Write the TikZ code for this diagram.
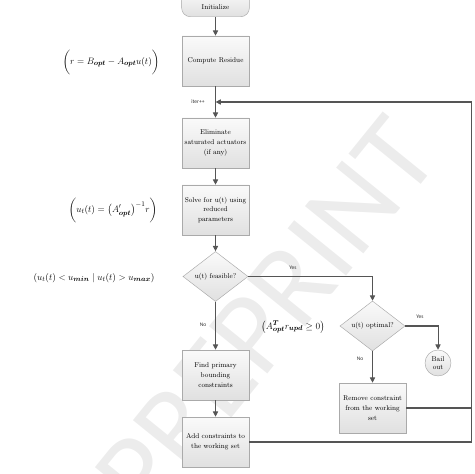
\documentclass[tikz,border=0pt]{standalone}
\usepackage{amsmath,amssymb}
\usepackage{fontspec}
\newfontfamily\labelfont{Carlito}
\usetikzlibrary{arrows.meta,positioning,calc,shapes.geometric}
\definecolor{linegray}{RGB}{85,85,85}
\definecolor{boxedge}{RGB}{170,170,170}
\definecolor{boxtop}{RGB}{250,250,250}
\definecolor{boxbottom}{RGB}{224,224,224}
\definecolor{wmark}{RGB}{236,236,236}
\tikzset{
  procbox/.style={rectangle, draw=boxedge, line width=0.6pt, top color=boxtop, bottom color=boxbottom, minimum width=3.0cm, minimum height=2.25cm, align=center, inner sep=2pt, font=\fontsize{9}{12.5}\selectfont},
  termbox/.style={rectangle, rounded corners=0.4cm, draw=boxedge, line width=0.6pt, top color=boxtop, bottom color=boxbottom, minimum width=3.05cm, text height=0.75cm, text depth=0.25cm, inner ysep=2pt, font=\fontsize{9}{12.5}\selectfont},
  decision/.style={diamond, aspect=1.3, draw=boxedge, line width=0.6pt, top color=boxtop, bottom color=boxbottom, minimum width=2.93cm, minimum height=2.25cm, inner sep=0pt, font=\fontsize{9}{12.5}\selectfont},
  bailnode/.style={circle, draw=boxedge, line width=0.6pt, top color=boxtop, bottom color=boxbottom, minimum size=1.17cm, inner sep=0pt, align=center, font=\fontsize{9}{11}\selectfont},
  flowline/.style={line width=1.3pt, linegray},
  flowarrow/.style={flowline, -{Triangle[length=2.4mm,width=2.3mm]}},
  branchlbl/.style={font=\labelfont\scriptsize, text=black!80},
  eqn/.style={font=\fontsize{13.2}{16}\selectfont}
}

\begin{document}
\begin{tikzpicture}[x=0.045cm, y=-0.045cm]
  \useasboundingbox (0,0) rectangle (474,474);
  \clip (0,0) rectangle (474,474);

  % Watermark
  \node[rotate=51, text=wmark, font=\labelfont\fontsize{150}{150}\selectfont] (wm) at (266,316) {PREPRINT};

  % Main column
  \node[termbox, anchor=south] (init) at (215.5,17) {Initialize};
  \node[procbox] (compute) at (215.5,61) {Compute Residue};
  \node[procbox] (elim) at (215.5,143) {Eliminate\\saturated actuators\\(if any)};
  \node[procbox] (solve) at (215.5,210) {Solve for u(t) using\\reduced\\parameters};
  \node[decision] (feasible) at (215.5,276.5) {u(t) feasible?};
  \node[procbox] (find) at (215.5,375) {Find primary\\bounding\\constraints};
  \node[procbox] (add) at (215.5,442) {Add constraints to\\the working set};

  % Right branch
  \node[decision] (optimal) at (372.5,326) {u(t) optimal?};
  \node[procbox] (remove) at (372.5,408) {Remove constraint\\from the working\\set};
  \node[bailnode] (bail) at (438,363) {Bail\\out};

  % Loop back
  \coordinate (rail) at (471,102);
  \coordinate (join) at (215.5,102);

  % Equations
  \node[eqn] (eqres) at (111,62) {$\bigg(r = B_{\boldsymbol{opt}} - A_{\boldsymbol{opt}}u(t)\bigg)$};
  \node[eqn] (eqsolve) at (113,210) {$\bigg(u_t(t) = \big(A'_{\boldsymbol{opt}}\big)^{-1} r\bigg)$};
  \node[eqn] (eqfeas) at (94,278) {$(u_t(t) < u_{\boldsymbol{min}} \mid u_t(t) > u_{\boldsymbol{max}})$};
  \node[eqn] (eqopt) at (293,327) {$\big(A_{\boldsymbol{opt}}^{\boldsymbol{T}} r_{\boldsymbol{upd}} \geq 0\big)$};

  % Branch labels
  \node[branchlbl] (iterlbl) at (198,102) {iter++};
  \node[branchlbl] (yesfeas) at (293,268) {Yes};
  \node[branchlbl] (nofeas) at (203,325) {No};
  \node[branchlbl] (yesopt) at (420,317) {Yes};
  \node[branchlbl] (noopt) at (360,359) {No};

  % Connectors
  \draw[flowarrow] (init) -- (compute);
  \draw[flowarrow] (compute) -- (elim);
  \draw[flowarrow] (elim) -- (solve);
  \draw[flowarrow] (solve) -- (feasible);
  \draw[flowarrow] (feasible.east) -| (optimal.north);
  \draw[flowarrow] (optimal.east) -| (bail.north);
  \draw[flowarrow] (feasible) -- (find);
  \draw[flowarrow] (find) -- (add);
  \draw[flowarrow] (optimal) -- (remove);
  \draw[flowarrow] (add.east) -| (rail) -- (join);
  \draw[flowline] (remove.east) -- (remove.east -| rail);
\end{tikzpicture}
\end{document}
